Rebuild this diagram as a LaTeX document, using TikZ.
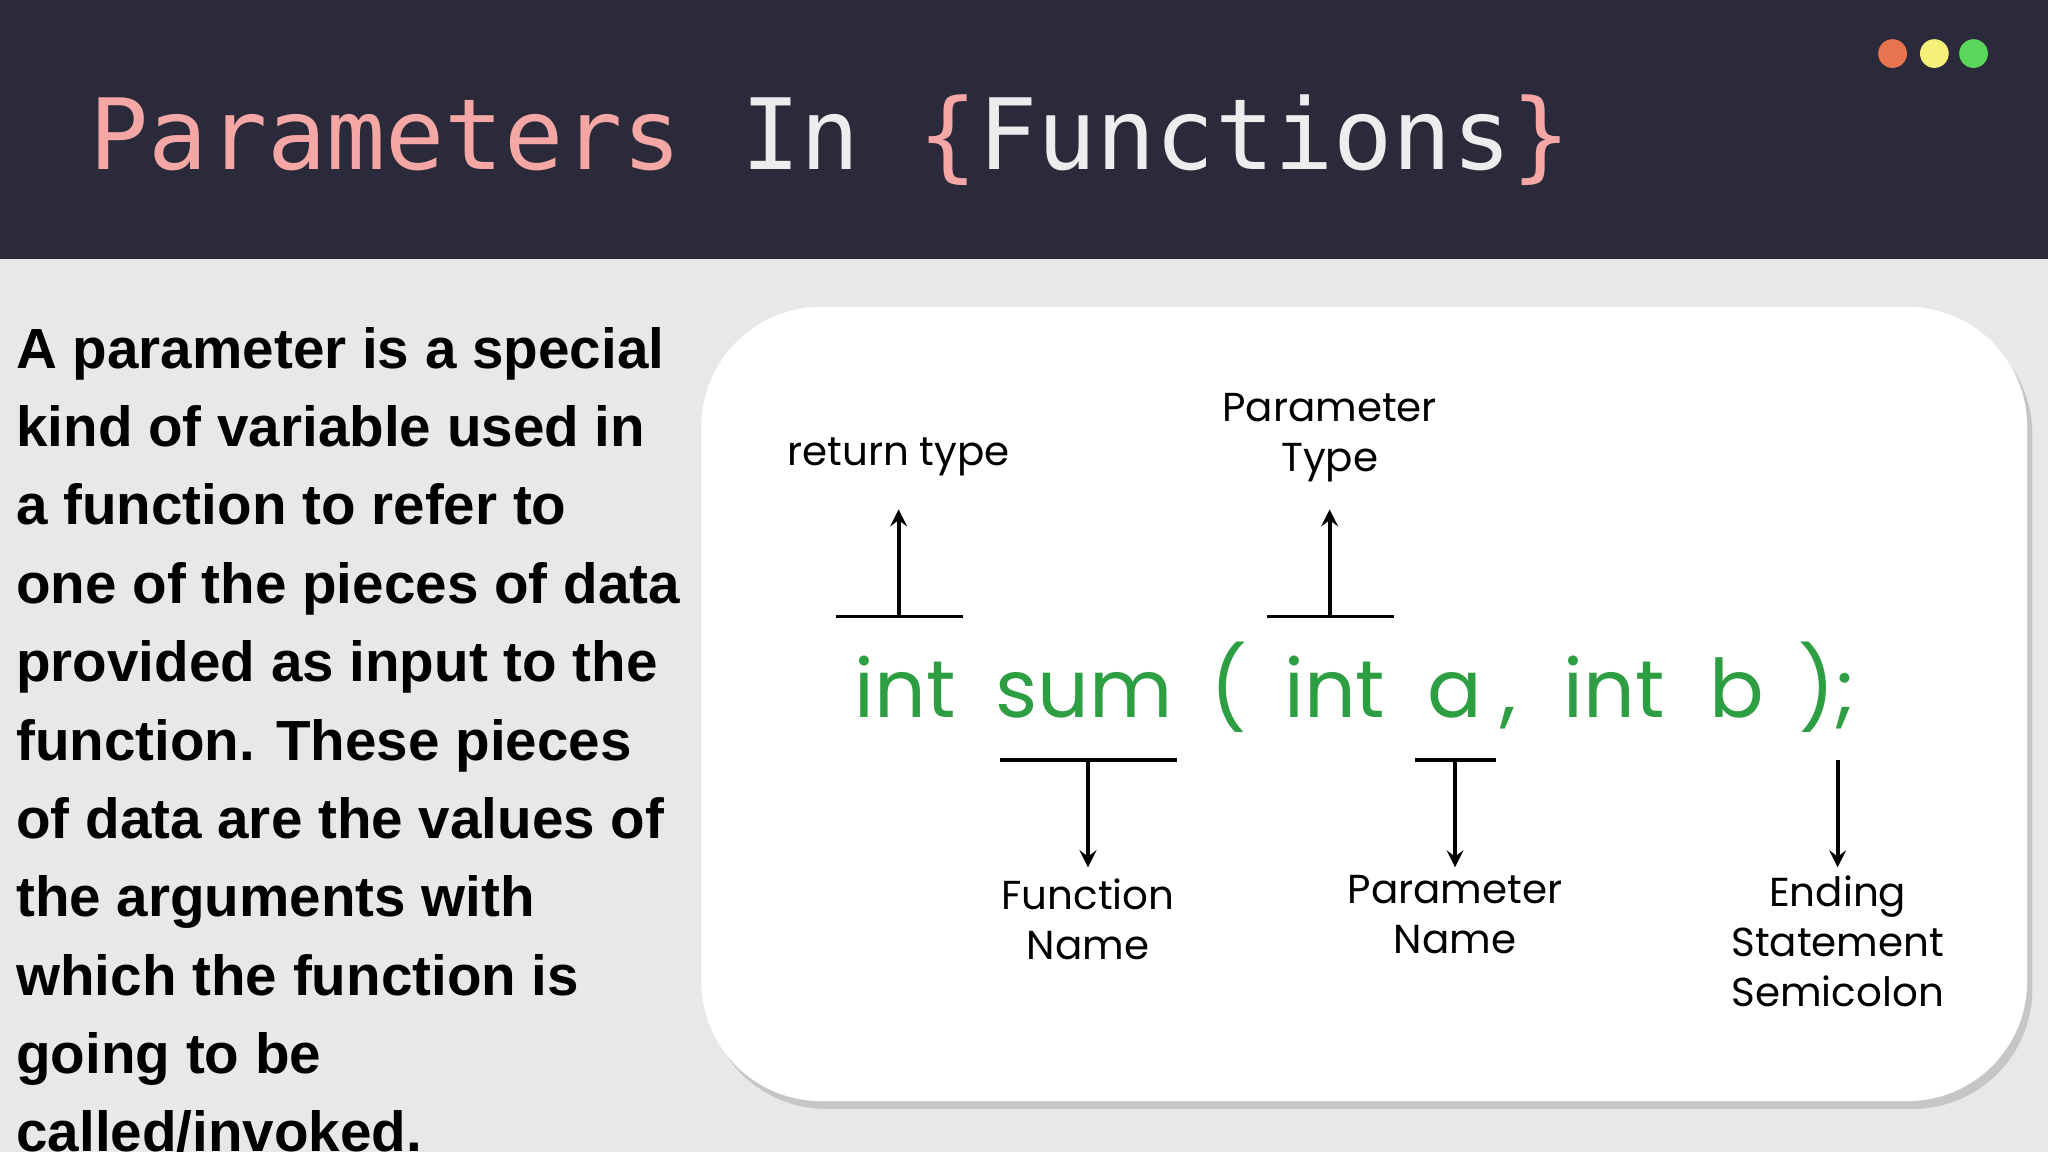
\documentclass[tikz,border=0pt]{standalone}
\usepackage{fontspec}
\setmainfont{Liberation Sans}
\newfontfamily\titlefont{DejaVu Sans Mono}
\newfontfamily\codefont{Poppins}
\usetikzlibrary{positioning}
\definecolor{barbg}{HTML}{2B2A3A}
\definecolor{pagebg}{HTML}{E8E8E8}
\definecolor{pinkish}{HTML}{F4A7A4}
\definecolor{titlewhite}{HTML}{EDEDED}
\definecolor{codegreen}{HTML}{2E9E42}
\definecolor{dotorange}{HTML}{E8744F}
\definecolor{dotyellow}{HTML}{F5F07A}
\definecolor{dotgreen}{HTML}{5AD65A}
\begin{document}
\begin{tikzpicture}
    [x=0.01306cm,y=-0.01306cm,
     tok/.style={anchor=base,inner sep=0pt,text=codegreen,font=\codefont\fontsize{23}{23}\selectfont},
     lbl/.style={align=center,inner sep=0pt,font=\codefont\fontsize{11.5}{14.2}\selectfont},
     bar/.style={line width=1.1pt},
     post/.style={->,>=stealth,line width=1.1pt}]
    \useasboundingbox (0,0) rectangle (1568,882);
    \clip (0,0) rectangle (1568,882);
    \fill[pagebg] (0,0) rectangle (1568,882);
    \fill[barbg] (0,0) rectangle (1568,198);
    % title and window dots
    \node [anchor=base west,inner sep=0pt,font=\titlefont\fontsize{28}{28}\selectfont] (title) at (68,130)
      {\textcolor{pinkish}{Parameters} \textcolor{titlewhite}{In} \textcolor{pinkish}{\{}\textcolor{titlewhite}{Functions}\textcolor{pinkish}{\}}};
    \fill[dotorange] (1449,41) circle (11);
    \fill[dotyellow] (1481,41) circle (11);
    \fill[dotgreen] (1511,41) circle (11);
    % left text
    \node [anchor=north west,align=left,inner sep=0pt,font=\bfseries\fontsize{16.1}{22.3}\selectfont] (desc) at (12,250)
      {A parameter is a special\\kind of variable used in\\a function to refer to\\one of the pieces of data\\provided as input to the\\function. These pieces\\of data are the values of\\the arguments with\\which the function is\\going to be\\called/invoked.};
    % card
    \fill[gray!45,rounded corners=34pt] (541,241) rectangle (1556,849);
    \fill[white,rounded corners=34pt] (537,235) rectangle (1552,843);
    % code tokens
    \node [tok] (int1) at (693,549) {int};
    \node [tok] (sum) at (830,549) {sum};
    \node [tok] (lp) at (941,549) {(};
    \node [tok] (int2) at (1022,549) {int};
    \node [tok] (a) at (1114,549) {a};
    \node [tok] (comma) at (1155,549) {,};
    \node [tok] (int3) at (1236,549) {int};
    \node [tok] (b) at (1330,549) {b};
    \node [tok] (end) at (1399,549) {);};
    % markers
    \coordinate (rt) at (688,472);
    \coordinate (pt) at (1018,472);
    \coordinate (fn) at (833,582);
    \coordinate (pn) at (1114,582);
    \coordinate (es) at (1407,582);
    \node [lbl] (rtl) at (688,350) {return type};
    \node [lbl] (ptl) at (1018,335) {Parameter\\Type};
    \node [lbl,anchor=north] (fnl) at (833,672) {Function\\Name};
    \node [lbl,anchor=north] (pnl) at (1114,670) {Parameter\\Name};
    \node [lbl,anchor=north] (esl) at (1407,670) {Ending\\Statement\\Semicolon};
    \draw [bar] (640,472) -- (737,472);
    \draw [bar] (970,472) -- (1067,472);
    \draw [bar] (766,582) -- (901,582);
    \draw [bar] (1083,582) -- (1145,582);
    \draw [post] (rt) -- ++(0,-82);
    \draw [post] (pt) -- ++(0,-82);
    \draw [post] (fn) -- ++(0,82);
    \draw [post] (pn) -- ++(0,82);
    \draw [post] (es) -- ++(0,82);
  \end{tikzpicture}
\end{document}
